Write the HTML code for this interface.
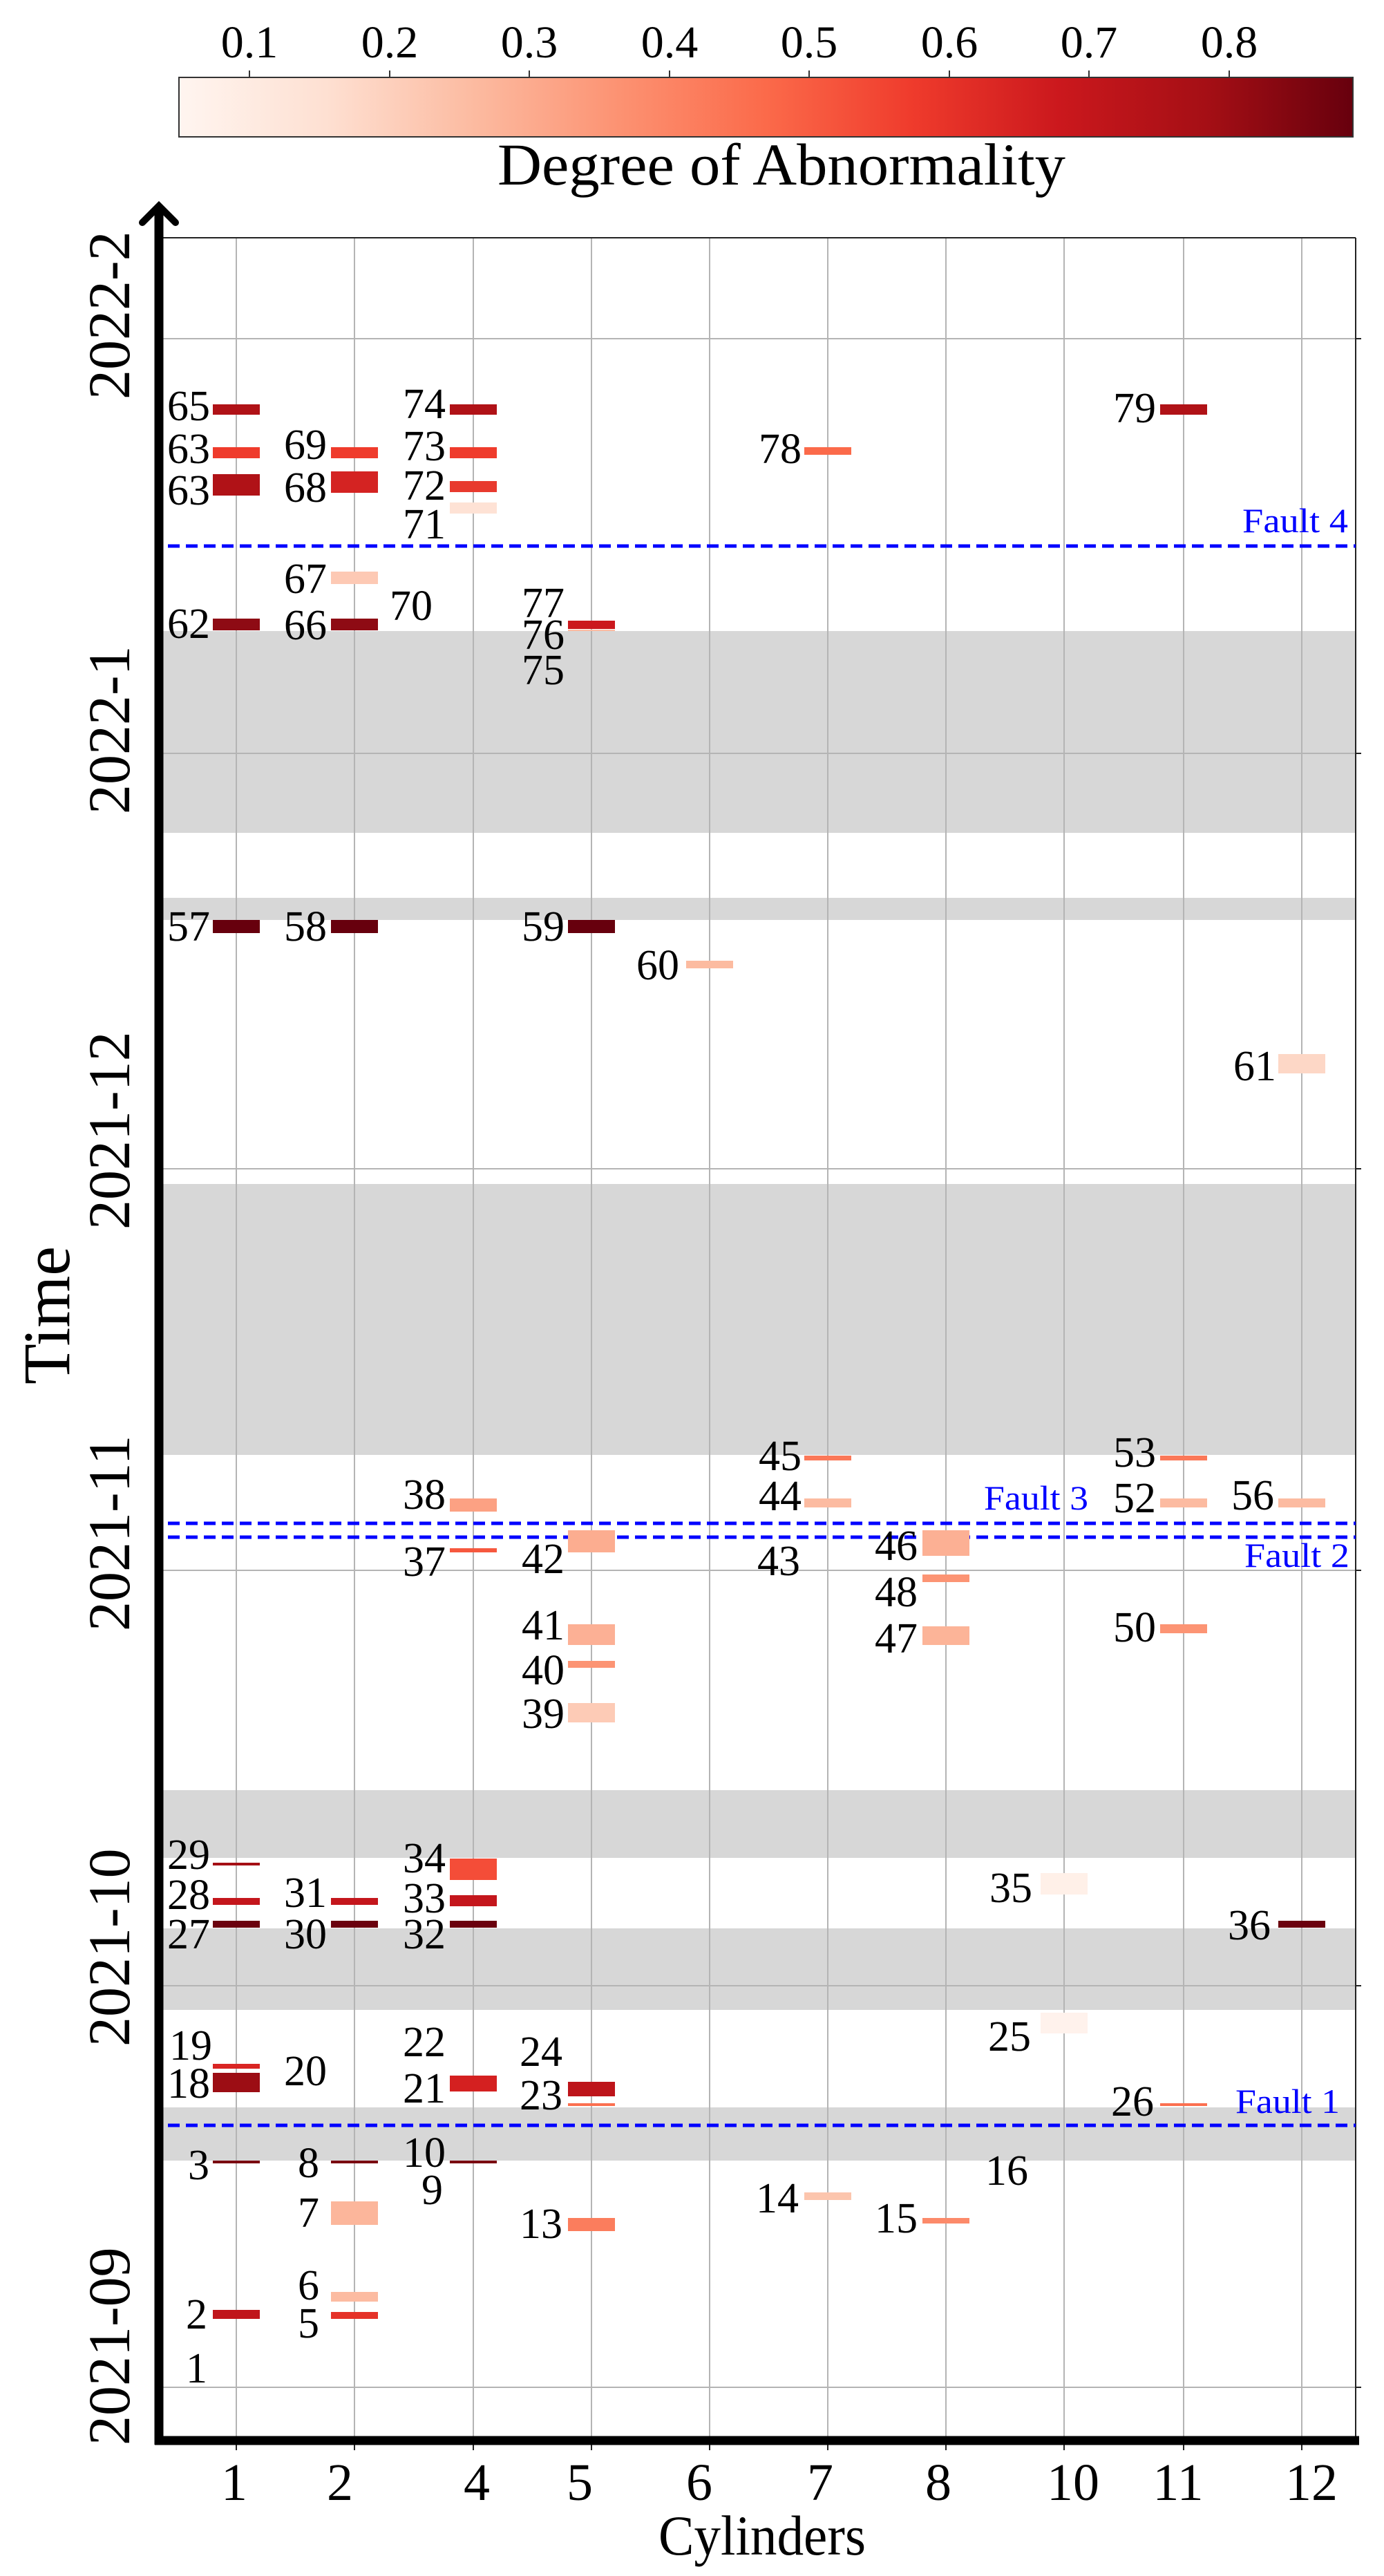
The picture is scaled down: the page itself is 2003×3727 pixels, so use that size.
<!DOCTYPE html>
<html><head><meta charset="utf-8"><style>
html,body{margin:0;padding:0;background:#fff;}
svg{display:block;}
text{font-family:"Liberation Serif",serif;}
</style></head><body>
<svg width="2003" height="3727" viewBox="0 0 2003 3727" xmlns="http://www.w3.org/2000/svg">
<defs>
<linearGradient id="reds" x1="0" x2="1" y1="0" y2="0">
<stop offset="0" stop-color="#fff5f0"/><stop offset="0.125" stop-color="#fee0d2"/>
<stop offset="0.25" stop-color="#fcbba1"/><stop offset="0.375" stop-color="#fc9272"/>
<stop offset="0.5" stop-color="#fb6a4a"/><stop offset="0.625" stop-color="#ef3b2c"/>
<stop offset="0.75" stop-color="#cb181d"/><stop offset="0.875" stop-color="#a50f15"/>
<stop offset="1" stop-color="#67000d"/>
</linearGradient>
</defs>
<!-- colorbar -->
<rect x="259" y="112" width="1699" height="86" fill="url(#reds)" stroke="#333" stroke-width="2"/>
<g stroke="#333" stroke-width="2">
<line x1="361" y1="102" x2="361" y2="112"/><line x1="564" y1="102" x2="564" y2="112"/><line x1="766" y1="102" x2="766" y2="112"/><line x1="969" y1="102" x2="969" y2="112"/><line x1="1171" y1="102" x2="1171" y2="112"/><line x1="1374" y1="102" x2="1374" y2="112"/><line x1="1576" y1="102" x2="1576" y2="112"/><line x1="1779" y1="102" x2="1779" y2="112"/>
</g>
<g font-size="66" text-anchor="middle" fill="#000">
<text x="361" y="83">0.1</text><text x="564" y="83">0.2</text><text x="766" y="83">0.3</text><text x="969" y="83">0.4</text><text x="1171" y="83">0.5</text><text x="1374" y="83">0.6</text><text x="1576" y="83">0.7</text><text x="1779" y="83">0.8</text>
</g>
<text x="720" y="267" font-size="86" textLength="822" lengthAdjust="spacingAndGlyphs">Degree of Abnormality</text>

<!-- gray bands -->
<g fill="#d7d7d7">
<rect x="236" y="913" width="1726" height="292"/>
<rect x="236" y="1299" width="1726" height="32"/>
<rect x="236" y="1713" width="1726" height="392"/>
<rect x="236" y="2590" width="1726" height="98"/>
<rect x="236" y="2790" width="1726" height="118"/>
<rect x="236" y="3049" width="1726" height="77"/>
</g>
<!-- grid -->
<g stroke="#b4b4b4" stroke-width="2">
<line x1="342" y1="344" x2="342" y2="3530"/><line x1="513" y1="344" x2="513" y2="3530"/><line x1="685" y1="344" x2="685" y2="3530"/><line x1="856" y1="344" x2="856" y2="3530"/><line x1="1027" y1="344" x2="1027" y2="3530"/><line x1="1198" y1="344" x2="1198" y2="3530"/><line x1="1369" y1="344" x2="1369" y2="3530"/><line x1="1540" y1="344" x2="1540" y2="3530"/><line x1="1713" y1="344" x2="1713" y2="3530"/><line x1="1884" y1="344" x2="1884" y2="3530"/>
<line x1="236" y1="490" x2="1962" y2="490"/><line x1="236" y1="1090" x2="1962" y2="1090"/><line x1="236" y1="1691" x2="1962" y2="1691"/><line x1="236" y1="2272" x2="1962" y2="2272"/><line x1="236" y1="2873" x2="1962" y2="2873"/><line x1="236" y1="3454" x2="1962" y2="3454"/>
</g>
<!-- frame -->
<line x1="230" y1="344" x2="1962" y2="344" stroke="#222" stroke-width="2"/>
<line x1="1962" y1="344" x2="1962" y2="3530" stroke="#222" stroke-width="2"/>
<g stroke="#222" stroke-width="2">
<line x1="1962" y1="490" x2="1970" y2="490"/><line x1="1962" y1="1090" x2="1970" y2="1090"/><line x1="1962" y1="1691" x2="1970" y2="1691"/><line x1="1962" y1="2272" x2="1970" y2="2272"/><line x1="1962" y1="2873" x2="1970" y2="2873"/><line x1="1962" y1="3454" x2="1970" y2="3454"/>
<line x1="342" y1="3530" x2="342" y2="3545"/><line x1="513" y1="3530" x2="513" y2="3545"/><line x1="685" y1="3530" x2="685" y2="3545"/><line x1="856" y1="3530" x2="856" y2="3545"/><line x1="1027" y1="3530" x2="1027" y2="3545"/><line x1="1198" y1="3530" x2="1198" y2="3545"/><line x1="1369" y1="3530" x2="1369" y2="3545"/><line x1="1540" y1="3530" x2="1540" y2="3545"/><line x1="1713" y1="3530" x2="1713" y2="3545"/><line x1="1884" y1="3530" x2="1884" y2="3545"/>
</g>

<!-- fault lines -->
<g stroke="#0000ff" stroke-width="5" stroke-dasharray="17 9">
<line x1="243" y1="790" x2="1962" y2="790"/>
<line x1="243" y1="2204" x2="1962" y2="2204"/>
<line x1="243" y1="2224" x2="1962" y2="2224"/>
<line x1="243" y1="3075" x2="1962" y2="3075"/>
</g>
<g fill="#0000ff" font-size="50">
<text x="1798" y="770" textLength="153" lengthAdjust="spacingAndGlyphs">Fault 4</text>
<text x="1424" y="2184" textLength="151" lengthAdjust="spacingAndGlyphs">Fault 3</text>
<text x="1801" y="2267" textLength="152" lengthAdjust="spacingAndGlyphs">Fault 2</text>
<text x="1788" y="3057" textLength="151" lengthAdjust="spacingAndGlyphs">Fault 1</text>
</g>

<!-- bars -->
<g>
<rect x="308" y="585" width="68" height="15" fill="#b01217"/>
<rect x="651" y="585" width="68" height="15" fill="#b01217"/>
<rect x="1679" y="585" width="68" height="15" fill="#b01217"/>
<rect x="308" y="647" width="68" height="16" fill="#ef3b2c"/>
<rect x="479" y="647" width="68" height="16" fill="#ef3b2c"/>
<rect x="651" y="647" width="68" height="16" fill="#ef3b2c"/>
<rect x="1164" y="647" width="68" height="11" fill="#fb6a4a"/>
<rect x="308" y="686" width="68" height="31" fill="#b01217"/>
<rect x="479" y="682" width="68" height="31" fill="#d42322"/>
<rect x="651" y="696" width="68" height="16" fill="#e83a2e"/>
<rect x="651" y="727" width="68" height="16" fill="#fee2d5"/>
<rect x="479" y="827" width="68" height="18" fill="#fdc9b4"/>
<rect x="308" y="895" width="68" height="17" fill="#8e0b14"/>
<rect x="479" y="895" width="68" height="17" fill="#8e0b14"/>
<rect x="822" y="898" width="68" height="12" fill="#cb181d"/>
<rect x="822" y="911" width="68" height="2" fill="#fcbba1"/>
<rect x="308" y="1331" width="68" height="19" fill="#67000d"/>
<rect x="479" y="1331" width="68" height="19" fill="#67000d"/>
<rect x="822" y="1331" width="68" height="19" fill="#67000d"/>
<rect x="993" y="1390" width="68" height="11" fill="#fcbba0"/>
<rect x="1850" y="1525" width="68" height="28" fill="#fdd7c6"/>
<rect x="1164" y="2106" width="68" height="7" fill="#fb7858"/>
<rect x="1679" y="2106" width="68" height="7" fill="#fb7858"/>
<rect x="651" y="2168" width="68" height="19" fill="#fca183"/>
<rect x="1164" y="2168" width="68" height="13" fill="#fcbba1"/>
<rect x="1679" y="2168" width="68" height="13" fill="#fcbba1"/>
<rect x="1850" y="2168" width="68" height="13" fill="#fcbba1"/>
<rect x="651" y="2240" width="68" height="6" fill="#f6583e"/>
<rect x="822" y="2214" width="68" height="32" fill="#fcad90"/>
<rect x="1335" y="2214" width="68" height="37" fill="#fcb094"/>
<rect x="1335" y="2278" width="68" height="11" fill="#fc9474"/>
<rect x="822" y="2350" width="68" height="30" fill="#fcb095"/>
<rect x="1335" y="2353" width="68" height="27" fill="#fcb498"/>
<rect x="1679" y="2350" width="68" height="13" fill="#fc9474"/>
<rect x="822" y="2403" width="68" height="10" fill="#fc9474"/>
<rect x="822" y="2464" width="68" height="28" fill="#fdcbb6"/>
<rect x="308" y="2695" width="68" height="4" fill="#a50f15"/>
<rect x="651" y="2689" width="68" height="31" fill="#f44d38"/>
<rect x="308" y="2746" width="68" height="10" fill="#c4161c"/>
<rect x="479" y="2746" width="68" height="10" fill="#c4161c"/>
<rect x="651" y="2742" width="68" height="16" fill="#c4161c"/>
<rect x="1506" y="2710" width="68" height="31" fill="#fff0e8"/>
<rect x="308" y="2779" width="68" height="10" fill="#6b010e"/>
<rect x="479" y="2779" width="68" height="10" fill="#6b010e"/>
<rect x="651" y="2779" width="68" height="10" fill="#6b010e"/>
<rect x="1850" y="2779" width="68" height="10" fill="#6b010e"/>
<rect x="1506" y="2912" width="68" height="30" fill="#fff2ec"/>
<rect x="308" y="2986" width="68" height="7" fill="#d92523"/>
<rect x="308" y="2999" width="68" height="28" fill="#9c0d14"/>
<rect x="651" y="3003" width="68" height="23" fill="#d42020"/>
<rect x="822" y="3012" width="68" height="21" fill="#bd141a"/>
<rect x="822" y="3043" width="68" height="4" fill="#fb7050"/>
<rect x="1679" y="3043" width="68" height="4" fill="#fb7050"/>
<rect x="308" y="3126" width="68" height="4" fill="#7a0510"/>
<rect x="479" y="3126" width="68" height="4" fill="#7a0510"/>
<rect x="651" y="3126" width="68" height="4" fill="#7a0510"/>
<rect x="479" y="3185" width="68" height="34" fill="#fcb69b"/>
<rect x="822" y="3209" width="68" height="19" fill="#fb7d5d"/>
<rect x="1164" y="3172" width="68" height="11" fill="#fcc5ad"/>
<rect x="1335" y="3209" width="68" height="8" fill="#fc8a6a"/>
<rect x="479" y="3316" width="68" height="14" fill="#fcbba1"/>
<rect x="308" y="3342" width="68" height="13" fill="#c0151b"/>
<rect x="479" y="3345" width="68" height="10" fill="#e53228"/>
</g>

<!-- bar labels -->
<g font-size="62" text-anchor="end" fill="#000">
<text x="304" y="608">65</text><text x="645" y="605">74</text><text x="1673" y="611">79</text>
<text x="304" y="670">63</text><text x="473" y="664">69</text><text x="645" y="666">73</text><text x="1160" y="670">78</text>
<text x="304" y="730">63</text><text x="473" y="726">68</text><text x="645" y="723">72</text><text x="645" y="779">71</text>
<text x="473" y="858">67</text><text x="626" y="897">70</text><text x="817" y="893">77</text>
<text x="304" y="923">62</text><text x="473" y="925">66</text><text x="817" y="939">76</text><text x="817" y="990">75</text>
<text x="304" y="1361">57</text><text x="473" y="1361">58</text><text x="817" y="1361">59</text>
<text x="983" y="1417">60</text><text x="1847" y="1563">61</text>
<text x="1160" y="2127">45</text><text x="1673" y="2122">53</text>
<text x="645" y="2183">38</text><text x="1160" y="2185">44</text><text x="1673" y="2188">52</text><text x="1844" y="2184">56</text>
<text x="645" y="2280">37</text><text x="817" y="2276">42</text><text x="1158" y="2279">43</text><text x="1328" y="2257">46</text>
<text x="1328" y="2324">48</text><text x="817" y="2372">41</text><text x="1328" y="2391">47</text><text x="1673" y="2375">50</text>
<text x="817" y="2437">40</text><text x="817" y="2500">39</text>
<text x="304" y="2704">29</text><text x="645" y="2709">34</text>
<text x="304" y="2762">28</text><text x="473" y="2759">31</text><text x="645" y="2767">33</text><text x="1494" y="2752">35</text>
<text x="304" y="2819">27</text><text x="473" y="2819">30</text><text x="645" y="2819">32</text><text x="1839" y="2806">36</text>
<text x="1492" y="2967">25</text><text x="307" y="2980">19</text><text x="304" y="3035">18</text><text x="473" y="3017">20</text>
<text x="645" y="2975">22</text><text x="645" y="3042">21</text><text x="814" y="2989">24</text><text x="814" y="3052">23</text><text x="1670" y="3061">26</text>
<text x="303" y="3153">3</text><text x="462" y="3150">8</text><text x="645" y="3135">10</text><text x="641" y="3189">9</text>
<text x="1488" y="3161">16</text><text x="462" y="3222">7</text><text x="814" y="3238">13</text><text x="1156" y="3201">14</text><text x="1328" y="3230">15</text>
<text x="462" y="3327">6</text><text x="300" y="3369">2</text><text x="462" y="3382">5</text><text x="300" y="3447">1</text>
</g>

<!-- y axis spine and arrow -->
<line x1="230" y1="304" x2="230" y2="3537" stroke="#000" stroke-width="13"/>
<polyline points="206,322 230,298 254,322" fill="none" stroke="#000" stroke-width="10" stroke-linecap="round" stroke-linejoin="miter"/>
<line x1="224" y1="3531" x2="1967" y2="3531" stroke="#000" stroke-width="13"/>

<!-- y tick labels -->
<g font-size="86" fill="#000">
<text transform="translate(187,578) rotate(-90)">2022-2</text>
<text transform="translate(187,1178) rotate(-90)">2022-1</text>
<text transform="translate(187,1779) rotate(-90)">2021-12</text>
<text transform="translate(187,2360) rotate(-90)">2021-11</text>
<text transform="translate(187,2961) rotate(-90)">2021-10</text>
<text transform="translate(187,3538) rotate(-90)">2021-09</text>
</g>
<text transform="translate(100,2003) rotate(-90)" font-size="96" textLength="200" lengthAdjust="spacingAndGlyphs">Time</text>

<!-- x tick labels -->
<g font-size="76" text-anchor="middle" fill="#000">
<text x="339" y="3617">1</text><text x="492" y="3617">2</text><text x="690" y="3617">4</text><text x="839" y="3617">5</text><text x="1012" y="3617">6</text><text x="1187" y="3617">7</text><text x="1358" y="3617">8</text><text x="1553" y="3617">10</text><text x="1705" y="3617">11</text><text x="1898" y="3617">12</text>
</g>
<text x="953" y="3696" font-size="82" textLength="300" lengthAdjust="spacingAndGlyphs">Cylinders</text>
</svg>
</body></html>
